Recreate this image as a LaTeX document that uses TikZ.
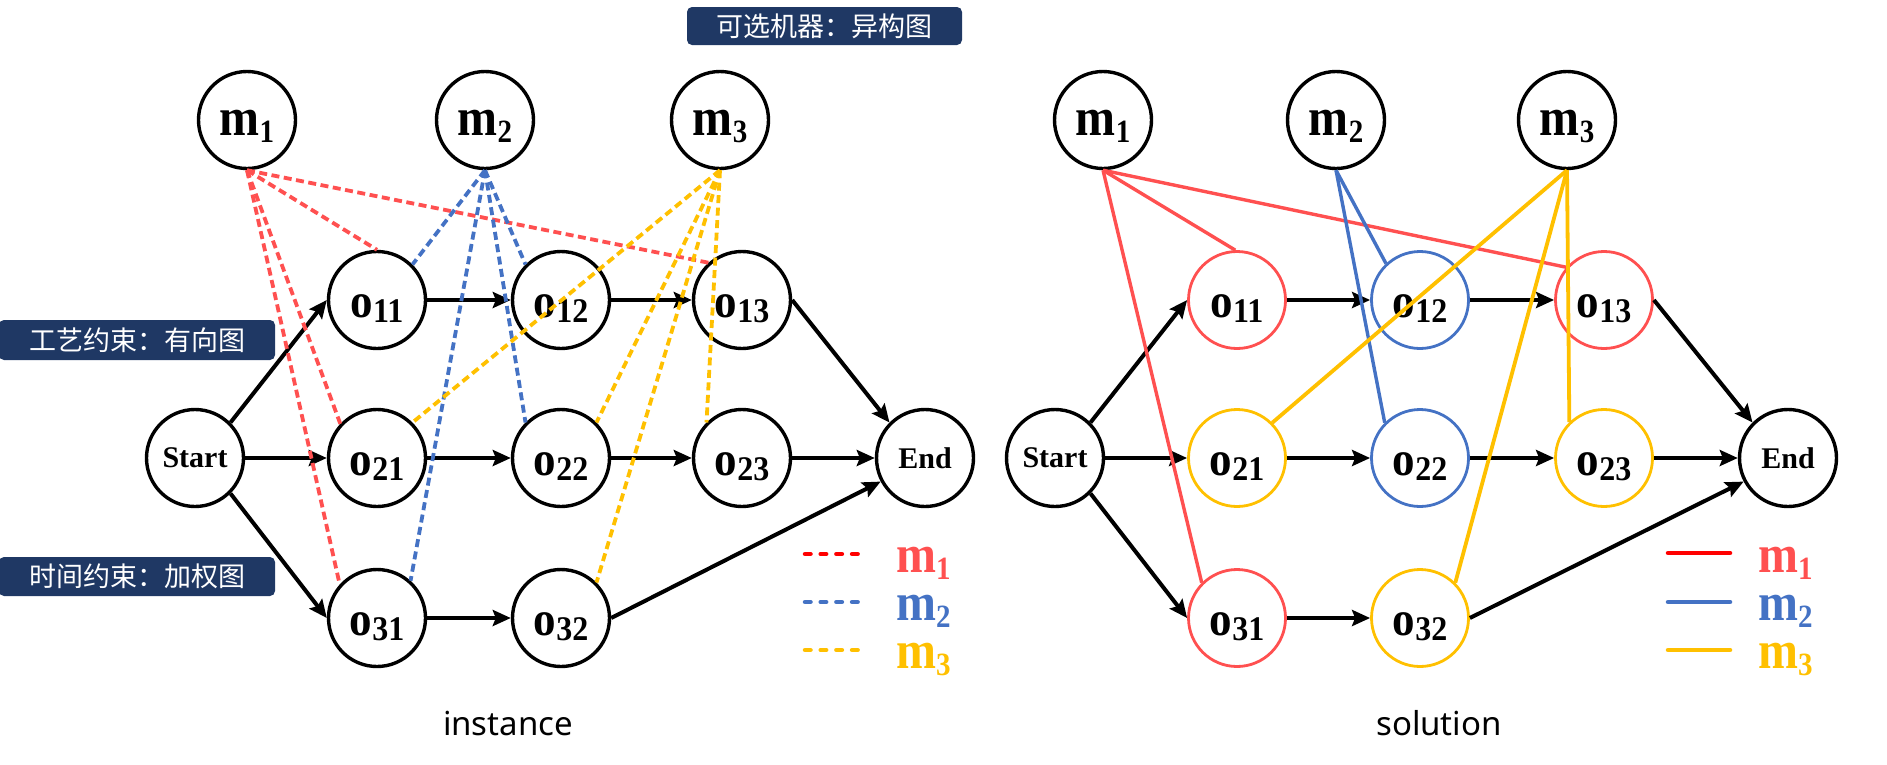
\documentclass[tikz,border=0pt]{standalone}
\usepackage{fontspec}
\setmainfont{Liberation Serif}
\newfontfamily\cjkfont{Noto Sans CJK SC}
\newfontfamily\capfont{Noto Sans}
\usetikzlibrary{arrows.meta}
\definecolor{mred}{HTML}{FF5050}
\definecolor{mblue}{HTML}{4472C4}
\definecolor{myel}{HTML}{FFC000}
\definecolor{navy}{HTML}{1F3864}
\definecolor{legred}{HTML}{FF0000}
\newcommand\olab[1]{\raisebox{-17pt}[0pt][0pt]{\scalebox{1}[1.08]{\bfseries\fontsize{45}{45}\selectfont o\raisebox{-5pt}{\fontsize{32}{32}\selectfont #1}}}}
\newcommand\mlab[1]{\raisebox{-15pt}[0pt][0pt]{\scalebox{1}[1.12]{\bfseries\fontsize{48}{48}\selectfont m\raisebox{-7pt}{\fontsize{29}{29}\selectfont #1}}}}
\newcommand\legm[1]{\scalebox{1}[1.12]{\bfseries\fontsize{48}{48}\selectfont m\raisebox{-7pt}{\fontsize{29}{29}\selectfont #1}}}
\tikzset{
  x=1pt, y=-1pt,
  gnode/.style={circle, draw=black, line width=3.4pt, minimum size=97pt, inner sep=0pt},
  cnode/.style={circle, line width=2.8pt, minimum size=97pt, inner sep=0pt},
  seflab/.style={font=\bfseries\fontsize{30}{30}\selectfont},
  flow/.style={line width=4pt, -{Stealth[length=18pt,width=16pt,inset=3pt]}},
  dedge/.style={line width=3.8pt, dash pattern=on 8pt off 4.5pt},
  sedge/.style={line width=3.4pt},
  tagbox/.style={fill=navy, rounded corners=5pt, text=white, inner sep=0pt,
    font=\cjkfont\fontsize{27}{27}\selectfont},
  legline/.style={line width=4.5pt, line cap=round},
  captext/.style={font=\capfont\fontsize{33}{33}\selectfont, anchor=base}
}
\begin{document}
\begin{tikzpicture}
\useasboundingbox (0,0) rectangle (1887,764);

% ---------- left panel: instance ----------
\node[gnode, seflab] (LS) at (195,458) {Start};
\node[gnode] (Lo11) at (377,300) {\olab{11}};
\node[gnode] (Lo12) at (561,300) {\olab{12}};
\node[gnode] (Lo13) at (742,300) {\olab{13}};
\node[gnode] (Lo21) at (377,458) {\olab{21}};
\node[gnode] (Lo22) at (561,458) {\olab{22}};
\node[gnode] (Lo23) at (742,458) {\olab{23}};
\node[gnode] (Lo31) at (377,618) {\olab{31}};
\node[gnode] (Lo32) at (561,618) {\olab{32}};
\node[gnode, seflab] (LE) at (925,458) {End};
\node[gnode] (Lm1) at (247,120) {\mlab{1}};
\node[gnode] (Lm2) at (485,120) {\mlab{2}};
\node[gnode] (Lm3) at (720,120) {\mlab{3}};

\draw[flow] (LS.45) -- (Lo11.west);
\draw[flow] (LS.east) -- (Lo21.west);
\draw[flow] (LS.-45) -- (Lo31.west);
\draw[flow] (Lo11) -- (Lo12);
\draw[flow] (Lo12) -- (Lo13);
\draw[flow] (Lo21) -- (Lo22);
\draw[flow] (Lo22) -- (Lo23);
\draw[flow] (Lo31) -- (Lo32);
\draw[flow] (Lo13.east) -- (LE.135);
\draw[flow] (Lo23) -- (LE);
\draw[flow] (Lo32.east) -- (LE.208);

\draw[dedge, mred] (Lm1.south) -- (Lo11.90);
\draw[dedge, mred] (Lm1.south) -- (Lo13.132);
\draw[dedge, mred] (Lm1.south) -- (Lo21.137);
\draw[dedge, mred] (Lm1.south) -- (Lo31.138);
\draw[dedge, mblue] (Lm2.south) -- (Lo11.45);
\draw[dedge, mblue] (Lm2.south) -- (Lo12.135);
\draw[dedge, mblue] (Lm2.south) -- (Lo22.135);
\draw[dedge, mblue] (Lm2.south) -- (Lo31.48);
\draw[dedge, myel] (Lm3.south) -- (Lo21.45);
\draw[dedge, myel] (Lm3.south) -- (Lo22.45);
\draw[dedge, myel] (Lm3.south) -- (Lo23.135);
\draw[dedge, myel] (Lm3.south) -- (Lo32.45);

% left legend
\coordinate (La1) at (805,554); \coordinate (Lb1) at (858,554);
\coordinate (La2) at (805,602); \coordinate (Lb2) at (858,602);
\coordinate (La3) at (805,650); \coordinate (Lb3) at (858,650);
\draw[legline, legred, dash pattern=on 5.5pt off 10.2pt] (La1) -- (Lb1);
\draw[legline, mblue, dash pattern=on 5.5pt off 10.2pt] (La2) -- (Lb2);
\draw[legline, myel, dash pattern=on 5.5pt off 10.2pt] (La3) -- (Lb3);
\node[anchor=base west, inner sep=0pt, text=mred] (Lt1) at (896,572) {\legm{1}};
\node[anchor=base west, inner sep=0pt, text=mblue] (Lt2) at (896,620) {\legm{2}};
\node[anchor=base west, inner sep=0pt, text=myel] (Lt3) at (896,668) {\legm{3}};

\node[captext] (capL) at (508,735) {instance};

% ---------- right panel: solution ----------
\node[gnode, seflab] (RS) at (1055,458) {Start};
\node[cnode, draw=mred] (Ro11) at (1237,300) {\olab{11}};
\node[cnode, draw=mblue] (Ro12) at (1420,300) {\olab{12}};
\node[cnode, draw=mred] (Ro13) at (1604,300) {\olab{13}};
\node[cnode, draw=myel] (Ro21) at (1237,458) {\olab{21}};
\node[cnode, draw=mblue] (Ro22) at (1420,458) {\olab{22}};
\node[cnode, draw=myel] (Ro23) at (1604,458) {\olab{23}};
\node[cnode, draw=mred] (Ro31) at (1237,618) {\olab{31}};
\node[cnode, draw=myel] (Ro32) at (1420,618) {\olab{32}};
\node[gnode, seflab] (RE) at (1788,458) {End};
\node[gnode] (Rm1) at (1103,120) {\mlab{1}};
\node[gnode] (Rm2) at (1336,120) {\mlab{2}};
\node[gnode] (Rm3) at (1567,120) {\mlab{3}};

\draw[flow] (RS.45) -- (Ro11.west);
\draw[flow] (RS.east) -- (Ro21.west);
\draw[flow] (RS.-45) -- (Ro31.west);
\draw[flow] (Ro11) -- (Ro12);
\draw[flow] (Ro12) -- (Ro13);
\draw[flow] (Ro21) -- (Ro22);
\draw[flow] (Ro22) -- (Ro23);
\draw[flow] (Ro31) -- (Ro32);
\draw[flow] (Ro13.east) -- (RE.135);
\draw[flow] (Ro23) -- (RE);
\draw[flow] (Ro32.east) -- (RE.208);

\draw[sedge, mred] (Rm1.south) -- (Ro11.92);
\draw[sedge, mred] (Rm1.south) -- (Ro13.139);
\draw[sedge, mred] (Rm1.south) -- (Ro31.135);
\draw[sedge, mblue] (Rm2.south) -- (Ro12.133);
\draw[sedge, mblue] (Rm2.south) -- (Ro22.135);
\draw[sedge, myel, line width=3.8pt] (Rm3.south) -- (Ro21.45);
\draw[sedge, myel, line width=3.8pt] (Rm3.south) -- (Ro23.134);
\draw[sedge, myel, line width=3.8pt] (Rm3.south) -- (Ro32.45);

% right legend
\coordinate (Ra1) at (1668,553); \coordinate (Rb1) at (1730,553);
\coordinate (Ra2) at (1668,602); \coordinate (Rb2) at (1730,602);
\coordinate (Ra3) at (1668,650); \coordinate (Rb3) at (1730,650);
\draw[legline, legred] (Ra1) -- (Rb1);
\draw[legline, mblue] (Ra2) -- (Rb2);
\draw[legline, myel] (Ra3) -- (Rb3);
\node[anchor=base west, inner sep=0pt, text=mred] (Rt1) at (1758,572) {\legm{1}};
\node[anchor=base west, inner sep=0pt, text=mblue] (Rt2) at (1758,620) {\legm{2}};
\node[anchor=base west, inner sep=0pt, text=myel] (Rt3) at (1758,668) {\legm{3}};

\node[captext] (capR) at (1439,735) {solution};

% ---------- tags ----------
\node[tagbox, minimum width=275pt, minimum height=38pt] (tag1) at (824.5,26) {可选机器：异构图};
\node[tagbox, minimum width=276pt, minimum height=40pt] (tag2) at (137,340) {工艺约束：有向图};
\node[tagbox, minimum width=276pt, minimum height=39pt] (tag3) at (137,576.5) {时间约束：加权图};
\end{tikzpicture}
\end{document}
